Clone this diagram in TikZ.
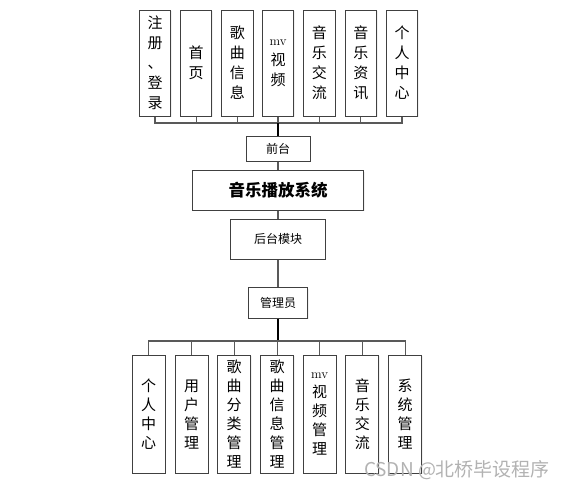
\documentclass[tikz,border=0pt]{standalone}
\usepackage{fontspec}
\newfontfamily\cjk{Noto Sans CJK SC}
\usetikzlibrary{shadows}
\definecolor{BoxClr}{rgb}{0.25,0.25,0.25}
\definecolor{LineClr}{rgb}{0.35,0.35,0.35}

\begin{document}
\begin{tikzpicture}[x=1pt,y=-1pt,
  Box/.style={draw=BoxClr,line width=1pt,fill=white,inner sep=0pt,align=center,
    font=\cjk\fontsize{12}{14}\selectfont,
    drop shadow={opacity=0.12,shadow xshift=1pt,shadow yshift=-1pt}},
  TopBox/.style={Box,minimum width=31.5pt,minimum height=106pt,font=\cjk\fontsize{15}{20}\selectfont},
  LowBox/.style={Box,minimum width=33pt,minimum height=118pt,font=\cjk\fontsize{15}{19}\selectfont},
  Stub/.style={draw=LineClr,line width=1.2pt},
  Main/.style={draw=black,line width=1.6pt}]
\useasboundingbox (0,0) rectangle (568,490);

\node[TopBox] (F1) at (155,63) {注\\册\\、\\登\\录};
\node[TopBox] (F2) at (196.2,63) {首\\页};
\node[TopBox] (F3) at (237.4,63) {歌\\曲\\信\\息};
\node[TopBox] (F4) at (278,63) {{\rmfamily\fontsize{13}{14}\selectfont mv}\\视\\频};
\node[TopBox] (F5) at (319.4,63) {音\\乐\\交\\流};
\node[TopBox] (F6) at (360.8,63) {音\\乐\\资\\讯};
\node[TopBox] (F7) at (402,63) {个\\人\\中\\心};

\node[Box,minimum width=64pt,minimum height=25pt] (Qt) at (278,148.5) {前台};
\node[Box,minimum width=171pt,minimum height=39.5pt,font=\cjk\bfseries\fontsize{16.5}{18}\selectfont] (Sys) at (278,190.3) {音乐播放系统};
\node[Box,minimum width=94.6pt,minimum height=39.7pt] (Ht) at (278,239.2) {后台模块};
\node[Box,minimum width=59.4pt,minimum height=30.6pt] (Gly) at (278,303) {管理员};

\node[LowBox] (B1) at (148.7,414.2) {个\\人\\中\\心};
\node[LowBox] (B2) at (191.7,414.2) {用\\户\\管\\理};
\node[LowBox] (B3) at (234.2,414.2) {歌\\曲\\分\\类\\管\\理};
\node[LowBox] (B4) at (277.2,414.2) {歌\\曲\\信\\息\\管\\理};
\node[LowBox] (B5) at (319.5,414.2) {{\rmfamily\fontsize{13}{14}\selectfont mv}\\视\\频\\管\\理};
\node[LowBox] (B6) at (362.3,414.2) {音\\乐\\交\\流};
\node[LowBox] (B7) at (405.2,414.2) {系\\统\\管\\理};

\coordinate (U) at (278,123);
\coordinate (D) at (278,341);

\draw[Stub] (F1.south) |- (U) (F2.south) |- (U) (F3.south) |- (U) (F4.south) -- (U)
  (F5.south) |- (U) (F6.south) |- (U) (F7.south) |- (U);
\draw[Main] (U) -- (Qt.north);
\draw[Stub] (Qt) -- (Sys) (Sys) -- (Ht) (Ht) -- (Gly);
\draw[Main] (Gly.south) -- (D);
\draw[Stub] (D) -| (B1.north) (D) -| (B2.north) (D) -| (B3.north) (D) -| (B4.north)
  (D) -| (B5.north) (D) -| (B6.north) (D) -| (B7.north);

\node[font=\cjk\fontsize{19}{19}\selectfont,text=gray!60] (Wm) at (457,470) {CSDN @北桥毕设程序};

\end{tikzpicture}
\end{document}
